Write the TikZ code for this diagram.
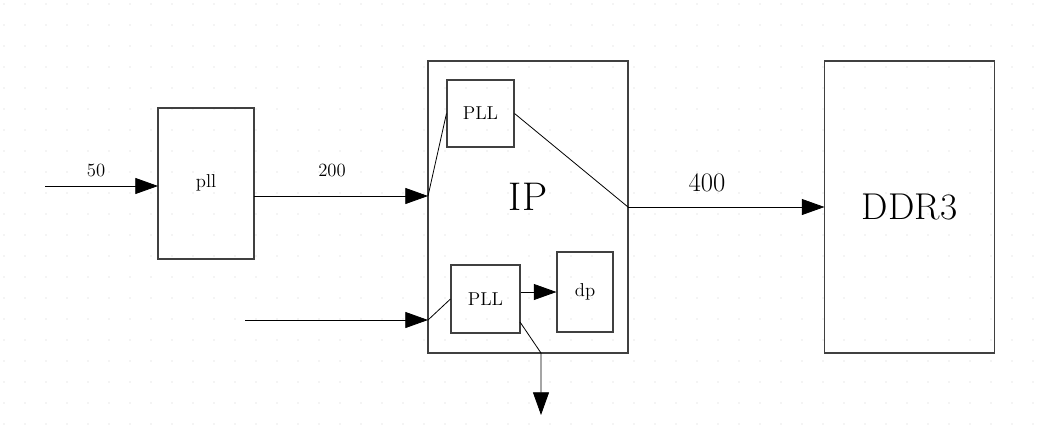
\documentclass[tikz,border=0pt]{standalone}
\usetikzlibrary{arrows.meta}
\begin{document}
\begin{tikzpicture}[x=0.75pt,y=-0.75pt,
  box/.style={draw=black!75,line width=0.8pt,inner sep=0pt},
  wire/.style={draw=black,line width=0.6pt},
  arr/.style={wire,-{Triangle[length=17pt,width=12pt]}},
  lab/.style={font=\fontsize{14}{16}\selectfont}]
\useasboundingbox (0,0) rectangle (1052,433);
\foreach \i in {0,...,50} \foreach \j in {0,...,20}
  \fill[black!18] (\i*21+4,\j*21+4) circle (0.5pt);
% boxes
\path[box] (158,108) rectangle (254,259);
\node[lab] (pll) at (206,183) {pll};
\coordinate (pllE) at (254,196);
\coordinate (pllW) at (158,186);
\path[box] (428,61) rectangle (628,353);
\node[font=\fontsize{30}{32}\selectfont] (ip) at (528,197) {IP};
\node[box,minimum width=67*0.75pt,minimum height=67*0.75pt,lab] (p1) at (480.5,113.5) {PLL};
\node[box,minimum width=69*0.75pt,minimum height=68*0.75pt,lab] (p2) at (485.5,299) {PLL};
\node[box,minimum width=56*0.75pt,minimum height=80*0.75pt,lab] (dp) at (585,292) {dp};
\node[box,minimum width=199*0.75pt,minimum height=292*0.75pt,font=\fontsize{28}{30}\selectfont,xscale=0.85] (ddr) at (909.5,207) {};
\node[font=\fontsize{28}{30}\selectfont] at (909.5,207) {DDR3};
% connectors
\coordinate (s50) at (45,186);
\draw[arr] (s50) -- (pllW);
\node[lab] at (96,170) {50};
\coordinate (ipA) at (428,196);
\draw[arr] (pllE) -- (ipA);
\node[lab] at (332,170) {200};
\draw[wire] (ipA) -- (p1.west);
\coordinate (ipB) at (628,207);
\draw[wire] (p1.east) -- (ipB);
\draw[arr] (ipB) -- (ddr.west);
\node[font=\fontsize{20}{22}\selectfont] at (707,183) {400};
\coordinate (s2) at (245,320);
\coordinate (ipC) at (428,320);
\draw[arr] (s2) -- (ipC);
\draw[wire] (ipC) -- (p2.west);
\draw[arr] (p2.east |- dp.west) -- (dp.west);
\coordinate (bend) at (541,353);
\coordinate (out) at (541,415);
\draw[arr] (520,322) -- (bend) -- (out);
\end{tikzpicture}
\end{document}
